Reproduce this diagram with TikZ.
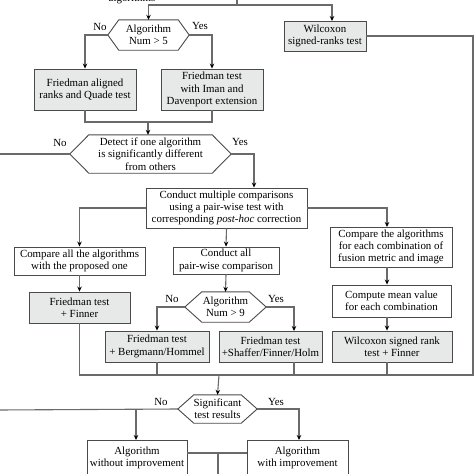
\documentclass[tikz,border=0pt]{standalone}
\usepackage{fontspec}
\setmainfont{Liberation Serif}
\usetikzlibrary{arrows.meta,calc}
\definecolor{boxline}{HTML}{4A4A4A}
\definecolor{linecol}{HTML}{6A6A6A}
\definecolor{greyfill}{HTML}{E6E9E8}
\begin{document}
\begin{tikzpicture}[x=1pt,y=-1pt,
  font=\fontsize{10.9}{12.3}\selectfont,
  box/.style={draw=boxline, line width=0.9pt, fill=white, align=center, inner sep=0pt},
  gbox/.style={box, fill=greyfill},
  hexa/.style={inner sep=0pt, align=center},
  hexline/.style={draw=boxline, line width=0.9pt, fill=white},
  conn/.style={draw=linecol, line width=1.1pt},
  arr/.style={conn, -{Stealth[length=5pt,width=4.5pt,color=black]}},
  lbl/.style={inner sep=0pt}
]
\useasboundingbox (0,0) rectangle (474,474);
\clip (0,0) rectangle (474,474);

% helper: hexagonal decision shape drawn from a node's anchors
\newcommand{\hexof}[2]{%
  \draw[hexline] (#1.west) -- ($(#1.north west)+(#2,0)$) -- ($(#1.north east)+(-#2,0)$)
    -- (#1.east) -- ($(#1.south east)+(-#2,0)$) -- ($(#1.south west)+(#2,0)$) -- cycle;}

% ---------- nodes ----------
\node[lbl, anchor=base] (topt) at (132,1) {algorithms};

\node[hexa, minimum width=81pt, minimum height=30pt] (d1) at (148.5,35) {};
\hexof{d1}{11}
\node[hexa] at (d1) {Algorithm\\Num > 5};

\node[gbox, minimum width=82pt, minimum height=30pt] (wil1) at (325,36) {Wilcoxon\\signed-ranks test};

\node[gbox, minimum width=102pt, minimum height=41pt] (fa) at (85,89.5) {Friedman aligned\\ranks and Quade test};
\node[gbox, minimum width=102pt, minimum height=41pt] (fi) at (212,89.5) {Friedman test\\with Iman and\\Davenport extension};

\node[hexa, minimum width=161pt, minimum height=38pt] (d2) at (150.5,154) {};
\hexof{d2}{19}
\node[hexa] at (d2) {Detect if one algorithm\\is significantly different\\from others};

\node[box, minimum width=161pt, minimum height=40pt] (cm) at (226.5,208) {Conduct multiple comparisons\\using a pair-wise test with\\corresponding \textit{post-hoc} correction};

\node[box, minimum width=131pt, minimum height=28pt] (ca) at (79.5,261) {Compare all the algorithms\\with the proposed one};
\node[box, minimum width=106pt, minimum height=27pt] (cap) at (226,260.5) {Conduct all\\pair-wise comparison};
\node[box, minimum width=122pt, minimum height=40pt] (cmp) at (391,247) {Compare the algorithms\\for each combination of\\fusion metric and image};

\node[gbox, minimum width=101pt, minimum height=31pt] (ff) at (79.5,307.5) {Friedman test\\+ Finner};

\node[hexa, minimum width=81pt, minimum height=30pt] (d3) at (225.5,307) {};
\hexof{d3}{17}
\node[hexa] at (d3) {Algorithm\\Num > 9};

\node[box, minimum width=119pt, minimum height=32pt] (cmv) at (391.5,301) {Compute mean value\\for each combination};

\node[gbox, minimum width=104pt, minimum height=31pt] (fb) at (157,346.5) {Friedman test\\+ Bergmann/Hommel};
\node[gbox, minimum width=103pt, minimum height=31pt] (fs) at (270.5,346.5) {Friedman test\\+Shaffer/Finner/Holm};
\node[gbox, minimum width=120pt, minimum height=31pt] (ws) at (392,346.5) {Wilcoxon signed rank\\test + Finner};

\node[hexa, minimum width=79pt, minimum height=28pt] (d4) at (217.5,409) {};
\hexof{d4}{16}
\node[hexa] at (d4) {Significant\\test results};

\node[box, minimum width=100pt, minimum height=36pt] (aw) at (137,458) {Algorithm\\without improvement};
\node[box, minimum width=101pt, minimum height=36pt] (ai) at (297.5,458) {Algorithm\\with improvement};

% ---------- labels ----------
\node[lbl] (n1) at (100,27) {No};
\node[lbl] (y1) at (200,26) {Yes};
\node[lbl] (n2) at (60,143) {No};
\node[lbl] (y2) at (240,142) {Yes};
\node[lbl] (n3) at (172,299) {No};
\node[lbl] (y3) at (276,299) {Yes};
\node[lbl] (n4) at (161,402) {No};
\node[lbl] (y4) at (276,402) {Yes};

% ---------- coordinates ----------
\coordinate (tin) at (237,-2);
\coordinate (tj) at (237,5);
\coordinate (wilin) at (332,21);
\coordinate (j1) at (148,122);
\coordinate (leftA) at (-2,154);
\coordinate (cmpin) at (387,227);
\coordinate (col) at (387,0);
\coordinate (fsin) at (294,331);
\coordinate (rc) at (473,375);
\coordinate (bus) at (219,375);
\coordinate (leftB) at (-2,410);
\coordinate (awin) at (136,440);
\coordinate (aiin) at (299,440);
\coordinate (mid) at (218,453);
\coordinate (midout) at (218,480);

% ---------- connectors ----------
\draw[conn] (tin) -- (tj);
\draw[arr] (tj) -| (d1.north);
\draw[arr] (tj) -| (wilin);
\draw[arr] (d1.west) -| (fa.north);
\draw[arr] (d1.east) -| (fi.north);
\draw[conn] (fa.south) |- (j1) -| (fi.south);
\draw[arr] (j1) -- (j1 |- d2.north);
\draw[conn] (d2.west) -- (leftA);
\draw[arr] (d2.east) -| (cm.north -| 254,0);
\draw[arr] (cm.west) -| (ca.north);
\draw[arr] (cm.east) -| (cmpin);
\draw[arr] (cm.south) -- (cap.north);
\draw[arr] (ca.south) -- (ff.north);
\draw[arr] (cap.south) -- (d3.north);
\draw[arr] (d3.west) -| (fb.north);
\draw[arr] (d3.east) -| (fsin);
\draw[arr] (cmp.south -| col) -- (cmv.north -| col);
\draw[arr] (cmv.south -| col) -- (ws.north -| col);
\draw[conn] (wil1.east) -| (rc) -- (ff.south |- rc) -- (ff.south);
\draw[conn] (fb.south) -- (fb.south |- rc);
\draw[conn] (fs.south -| fsin) -- (fsin |- rc);
\draw[conn] (ws.south -| col) -- (col |- rc);
\draw[arr] (bus) -- (d4.north);
\draw[conn] (d4.west) -- (leftB);
\draw[arr] (awin |- leftB) -- (awin);
\draw[arr] (d4.east) -| (aiin);
\draw[conn] (aw.east |- mid) -- (ai.west |- mid);
\draw[conn] (mid) -- (midout);
\end{tikzpicture}
\end{document}
